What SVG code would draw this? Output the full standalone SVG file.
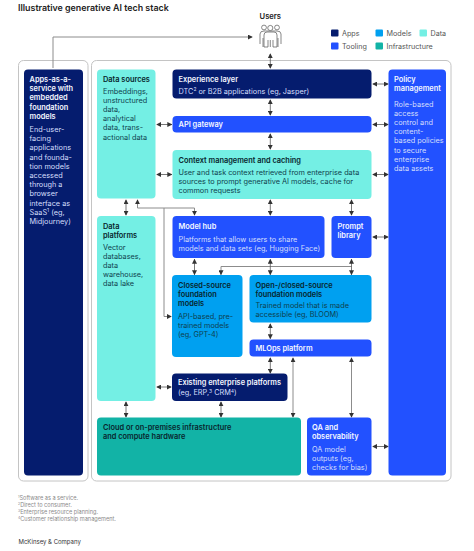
<svg xmlns="http://www.w3.org/2000/svg" width="474" height="551" viewBox="0 0 474 551">
<defs>
<marker id="h" viewBox="0 0 6 6" refX="5" refY="3" markerWidth="5" markerHeight="5" markerUnits="userSpaceOnUse" orient="auto-start-reverse"><path d="M0 0L6 3L0 6Z" fill="#333"/></marker>
</defs>
<style>
text{font-family:"Inter","Liberation Sans",sans-serif;font-size:7.3px}
.b{font-weight:600}
.w{fill:#d5dffc}.wb{fill:#f4f7ff;font-weight:600;font-size:7.4px}
.g{fill:#0f3f4e}.gb{fill:#08262e;font-weight:600;font-size:7.4px}
.fn{font-size:5.6px;fill:#8a8a8a}
.lg{font-size:7.2px;fill:#555}
.frame{fill:#fff;stroke:#c4c4c4;stroke-width:1}
.apps{fill:#051c6e}.tool{fill:#2251ff}.mod{fill:#00a0f0}.data{fill:#74efe4}.inf{fill:#12b3a6}
.c{fill:none;stroke:#555;stroke-width:.8}
.l{fill:none;stroke:#8c8c8c;stroke-width:1}
.a{marker-start:url(#h);marker-end:url(#h)}
.e{marker-end:url(#h)}
</style>
<rect width="474" height="551" fill="#fff"/>
<text x="18" y="11" class="b" style="font-size:8.9px;fill:#222">Illustrative generative AI tech stack</text>
<rect class="frame" x="18.500" y="60.500" width="69.500" height="420.500" rx="5"/>
<rect class="frame" x="91.500" y="60.500" width="359.500" height="420.500" rx="5"/>

<g id="connectors">
<path class="l e" d="M53 68V37H252"/>
<path class="c a" d="M270.300 54V68"/>
<path class="c a" d="M270.300 100V115"/>
<path class="c a" d="M270.300 134V149"/>
<path class="c a" d="M373 84H388"/>
<path class="c a" d="M373 124.500H388"/>
<path class="c a" d="M373 174.500H388"/>
<path class="c a" d="M157 124.500H171.500"/>
<path class="c a" d="M157 174.500H171.500"/>
<path class="c a" d="M373 237H388"/>
<path class="c a" d="M373 446.500H388"/>
<path class="c a" d="M126 200V215"/>
<path class="l a" d="M137.500 200V208H194.500V215"/>
<path class="l e" d="M164 208V316.500H171"/>
<path class="c a" d="M270.300 200V215"/>
<path class="c a" d="M351.500 200V215"/>
<path class="c a" d="M194.500 259.500V274.500"/>
<path class="l e" d="M351.500 266.500H221V274.500"/>
<path class="c a" d="M270.300 259.500V274.500"/>
<path class="c a" d="M351.500 259.500V274.500"/>
<path class="c a" d="M270.300 324V338.500"/>
<path class="c a" d="M270.300 358V373"/>
<path class="l a" d="M293 358V417"/>
<path class="l a" d="M351.500 358V417"/>
<path class="c a" d="M157 387H171"/>
<path class="c a" d="M126 402V417"/>
<path class="c a" d="M221 402V417"/>
</g>

<g id="users">
<text x="270.300" y="19" text-anchor="middle" class="b" style="font-size:7.6px;fill:#222">Users</text>
<g fill="#fff" stroke="#555" stroke-width=".7">
<circle cx="264" cy="27.500" r="2.400"/><circle cx="277" cy="27.500" r="2.400"/>
<path d="M260 44V34q0-3 4-3h13q4 0 4 3V44M263 38V47M278 38V47"/>
<circle cx="270.300" cy="28" r="2.600"/>
<path d="M264 47V35q0-3 3-3h7q3 0 3 3V47H273V40M268 40V47H264M270.300 40V47"/>
</g>
</g>

<g id="legend">
<rect class="apps" x="331" y="29.500" width="7.500" height="7" rx="1"/><text class="lg" x="342" y="36">Apps</text>
<rect class="tool" x="331" y="42.500" width="7.500" height="7" rx="1"/><text class="lg" x="342" y="49">Tooling</text>
<rect class="mod" x="375.500" y="29.500" width="7.500" height="7" rx="1"/><text class="lg" x="386.500" y="36">Models</text>
<rect class="inf" x="375.500" y="42.500" width="7.500" height="7" rx="1"/><text class="lg" x="386.500" y="49">Infrastructure</text>
<rect class="data" x="419.500" y="29.500" width="7.500" height="7" rx="1"/><text class="lg" x="430.500" y="36">Data</text>
</g>

<g id="apps-as-a-service">
<rect class="apps" x="24" y="69.500" width="59" height="406" rx="4"/>
<text class="wb" x="29.500" y="82">Apps-as-a-</text>
<text class="wb" x="29.500" y="91.300">service with</text>
<text class="wb" x="29.500" y="100.400">embedded</text>
<text class="wb" x="29.500" y="109.600">foundation</text>
<text class="wb" x="29.500" y="118.800">models</text>
<text class="w" x="29.500" y="132">End-user-</text>
<text class="w" x="29.500" y="141.300">facing</text>
<text class="w" x="29.500" y="150.400">applications</text>
<text class="w" x="29.500" y="159.600">and founda-</text>
<text class="w" x="29.500" y="168.800">tion models</text>
<text class="w" x="29.500" y="178">accessed</text>
<text class="w" x="29.500" y="187.200">through a</text>
<text class="w" x="29.500" y="196.400">browser</text>
<text class="w" x="29.500" y="205.600">interface as</text>
<text class="w" x="29.500" y="214.800">SaaS<tspan dy="-2.500" font-size="5">1</tspan><tspan dy="2.500"> (eg,</tspan></text>
<text class="w" x="29.500" y="224">Midjourney)</text>
</g>

<g id="data-sources">
<rect class="data" x="97" y="69.500" width="58.500" height="129" rx="4"/>
<text class="gb" x="103" y="82">Data sources</text>
<text class="g" x="103" y="93.500">Embeddings,</text>
<text class="g" x="103" y="102.700">unstructured</text>
<text class="g" x="103" y="111.900">data,</text>
<text class="g" x="103" y="121.100">analytical</text>
<text class="g" x="103" y="130.300">data, trans-</text>
<text class="g" x="103" y="139.500">actional data</text>
</g>

<g id="experience-layer">
<rect class="apps" x="172.500" y="69.500" width="199" height="29" rx="4"/>
<text class="wb" x="178.500" y="82">Experience layer</text>
<text class="w" x="178.500" y="93.500">DTC<tspan dy="-2.500" font-size="5">2</tspan><tspan dy="2.500"> or B2B applications (eg, Jasper)</tspan></text>
</g>

<g id="api-gateway">
<rect class="tool" x="172.500" y="116" width="199" height="16.500" rx="4"/>
<text class="wb" x="178.500" y="127">API gateway</text>
</g>

<g id="context">
<rect class="data" x="172.500" y="150" width="199" height="49" rx="4"/>
<text class="gb" x="178.500" y="163">Context management and caching</text>
<text class="g" x="178.500" y="174.500">User and task context retrieved from enterprise data</text>
<text class="g" x="178.500" y="183.700">sources to prompt generative AI models, cache for</text>
<text class="g" x="178.500" y="192.900">common requests</text>
</g>

<g id="data-platforms">
<rect class="data" x="97" y="216" width="58.500" height="185" rx="4"/>
<text class="gb" x="103" y="228.500">Data</text>
<text class="gb" x="103" y="237.700">platforms</text>
<text class="g" x="103" y="249.500">Vector</text>
<text class="g" x="103" y="258.700">databases,</text>
<text class="g" x="103" y="267.900">data</text>
<text class="g" x="103" y="277.100">warehouse,</text>
<text class="g" x="103" y="286.300">data lake</text>
</g>

<g id="model-hub">
<rect class="tool" x="172.500" y="216" width="152" height="42" rx="4"/>
<text class="wb" x="178.500" y="228.500">Model hub</text>
<text class="w" x="178.500" y="241.500">Platforms that allow users to share</text>
<text class="w" x="178.500" y="250.700">models and data sets (eg, Hugging Face)</text>
</g>

<g id="prompt-library">
<rect class="tool" x="331.500" y="216" width="40" height="42" rx="4"/>
<text class="wb" x="337.500" y="228.500">Prompt</text>
<text class="wb" x="337.500" y="237.700">library</text>
</g>

<g id="closed-source">
<rect class="mod" x="172" y="275" width="70.500" height="82" rx="4"/>
<text class="gb" x="178" y="287.500">Closed-source</text>
<text class="gb" x="178" y="296.700">foundation</text>
<text class="gb" x="178" y="305.900">models</text>
<text class="g" x="178" y="318.800">API-based, pre-</text>
<text class="g" x="178" y="328">trained models</text>
<text class="g" x="178" y="337.200">(eg, GPT-4)</text>
</g>

<g id="open-closed">
<rect class="mod" x="249.500" y="275" width="122" height="47.500" rx="4"/>
<text class="gb" x="255.500" y="287.500">Open-/closed-source</text>
<text class="gb" x="255.500" y="296.700">foundation models</text>
<text class="g" x="255.500" y="308">Trained model that is made</text>
<text class="g" x="255.500" y="317.200">accessible (eg, BLOOM)</text>
</g>

<g id="mlops">
<rect class="tool" x="249.500" y="339.500" width="122" height="17" rx="4"/>
<text class="wb" x="255.500" y="351">MLOps platform</text>
</g>

<g id="existing-enterprise">
<rect class="apps" x="172" y="373.500" width="115.500" height="27.500" rx="4"/>
<text class="wb" x="178" y="384.500">Existing enterprise platforms</text>
<text class="w" x="178" y="395">(eg, ERP,<tspan dy="-2.500" font-size="5">3</tspan><tspan dy="2.500"> CRM</tspan><tspan dy="-2.500" font-size="5">4</tspan><tspan dy="2.500">)</tspan></text>
</g>

<g id="cloud">
<rect class="inf" x="97" y="417.500" width="204" height="58" rx="4"/>
<text class="gb" x="103" y="430">Cloud or on-premises infrastructure</text>
<text class="gb" x="103" y="439.200">and compute hardware</text>
</g>

<g id="qa">
<rect class="tool" x="307" y="417.500" width="64.500" height="58" rx="4"/>
<text class="wb" x="312" y="430">QA and</text>
<text class="wb" x="312" y="439.200">observability</text>
<text class="w" x="312" y="451.500">QA model</text>
<text class="w" x="312" y="460.700">outputs (eg,</text>
<text class="w" x="312" y="469.900">checks for bias)</text>
</g>

<g id="policy">
<rect class="tool" x="388.500" y="69.500" width="57.500" height="406" rx="4"/>
<text class="wb" x="394" y="82">Policy</text>
<text class="wb" x="394" y="91.300">management</text>
<text class="w" x="394" y="106.500">Role-based</text>
<text class="w" x="394" y="115.700">access</text>
<text class="w" x="394" y="124.900">control and</text>
<text class="w" x="394" y="134.100">content-</text>
<text class="w" x="394" y="143.300">based policies</text>
<text class="w" x="394" y="152.500">to secure</text>
<text class="w" x="394" y="161.700">enterprise</text>
<text class="w" x="394" y="170.900">data assets</text>
</g>

<text class="fn" x="18" y="499.500"><tspan dy="-1.500" font-size="3.500">1</tspan><tspan dy="1.500">Software as a service.</tspan></text>
<text class="fn" x="18" y="506.500"><tspan dy="-1.500" font-size="3.500">2</tspan><tspan dy="1.500">Direct to consumer.</tspan></text>
<text class="fn" x="18" y="513.500"><tspan dy="-1.500" font-size="3.500">3</tspan><tspan dy="1.500">Enterprise resource planning.</tspan></text>
<text class="fn" x="18" y="520.500"><tspan dy="-1.500" font-size="3.500">4</tspan><tspan dy="1.500">Customer relationship management.</tspan></text>
<text x="18.500" y="544" style="font-size:6px;fill:#333">McKinsey &amp; Company</text>
</svg>
